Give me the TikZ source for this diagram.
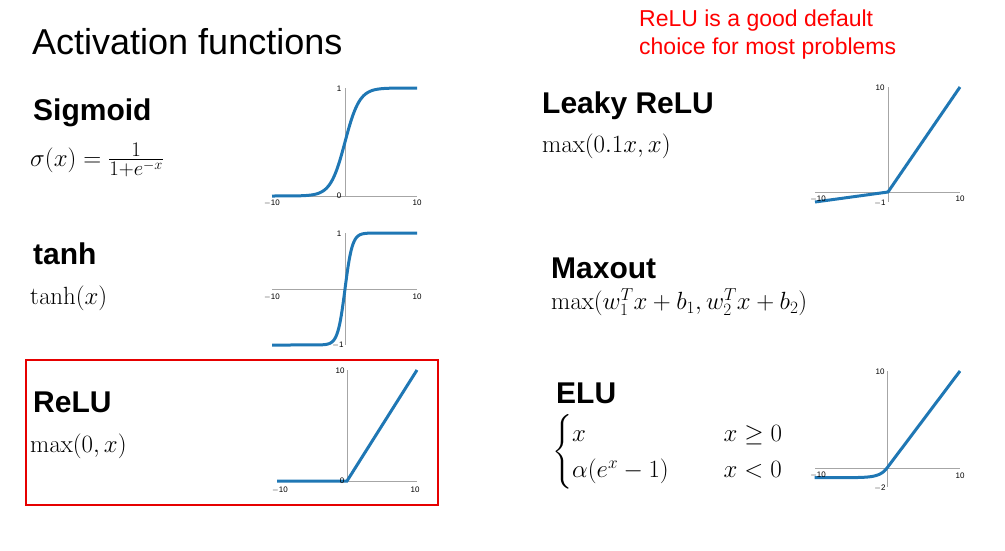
\documentclass[tikz,border=0pt]{standalone}
\usepackage[no-math]{fontspec}
\usepackage{amsmath}
\newfontfamily\arial{Liberation Sans}
\definecolor{plotblue}{RGB}{31,119,180}
\definecolor{redbox}{RGB}{230,0,0}
\begin{document}
\begin{tikzpicture}[x=1pt,y=-1pt,
  ax/.style={draw=gray!70,line width=0.6pt},
  crv/.style={draw=plotblue,line width=3pt},
  tk/.style={font=\arial\fontsize{8}{9}\selectfont,inner sep=1pt},
  head/.style={font=\arial\bfseries\fontsize{30}{34}\selectfont,anchor=west,inner sep=0pt},
  frm/.style={font=\fontsize{28}{32}\selectfont,anchor=west,inner sep=0pt}]
\useasboundingbox (0,0) rectangle (1005,550);
\node[font=\arial\fontsize{36}{40}\selectfont,anchor=west,inner sep=0] (title) at (32,42) {Activation functions};
\node[font=\arial\fontsize{23}{28}\selectfont,text=red,align=left,anchor=north west,inner sep=0] (note) at (639,10) {ReLU is a good default\\choice for most problems};
% Sigmoid
\node[head] (h1) at (33,113) {Sigmoid};
\node[frm] (f1) at (30,160) {$\sigma(x)=\frac{1}{1+e^{-x}}$};
\draw[ax] (272,196)--(417,196) (345,88)--(345,196);
\draw[crv] (272,196)--({345+7.25*(-8)},{196-108/(1+exp(8))}) -- plot[domain=-8:8,samples=80] ({345+7.25*\x},{196-108/(1+exp(-\x))}) -- (417,88);
\node[tk] (a1) at (272,203) {$-$10}; \node[tk] (b1) at (417,203) {10};
\node[tk] (c1) at (339,89) {1}; \node[tk] (d1) at (339,196) {0};
% tanh
\node[head] (h2) at (33,254) {tanh};
\node[frm] (f2) at (30,298) {$\tanh(x)$};
\draw[ax] (272,289)--(417,289) (345,233)--(345,345);
\draw[crv] (272,345) -- plot[domain=-4.5:4.5,samples=80] ({345+7.25*\x},{289-56*(1-2/(exp(2*\x)+1))}) -- (417,233);
\node[tk] (a2) at (272,297) {$-$10}; \node[tk] (b2) at (417,297) {10};
\node[tk] (c2) at (339,234) {1}; \node[tk] (d2) at (338,345) {$-$1};
% ReLU
\draw[redbox,line width=2pt] (26,360) rectangle (438,505);
\node[head] (h3) at (33,402) {ReLU};
\node[frm] (f3) at (30,446) {$\max(0,x)$};
\draw[ax] (277,481)--(417,481) (347,370)--(347,481);
\draw[crv] (277,481)--(347,481)--(417,370);
\node[tk] (a3) at (280,490) {$-$10}; \node[tk] (b3) at (415,490) {10};
\node[tk] (c3) at (340,371) {10}; \node[tk] (d3) at (342,481) {0};
% Leaky
\node[head] (h4) at (542,106) {Leaky ReLU};
\node[frm] (f4) at (542,146) {$\max(0.1x,x)$};
\draw[ax] (815,192)--(960,192) (888,87)--(888,202);
\draw[crv] (815,202)--(888,192)--(960,87);
\node[tk] (a4) at (818,199) {$-$10}; \node[tk] (b4) at (960,199) {10};
\node[tk] (c4) at (880,88) {10}; \node[tk] (d4) at (880,203) {$-$1};
% Maxout
\node[head] (h5) at (551,268) {Maxout};
\node[frm,font=\fontsize{25}{30}\selectfont] (f5) at (551,302) {$\max(w_1^Tx+b_1,w_2^Tx+b_2)$};
% ELU
\node[head] (h6) at (556,393) {ELU};
\node[frm,font=\fontsize{24}{30}\selectfont] (f6) at (552,452) {$\begin{cases}x & \quad\; x\ge 0\\ \alpha(e^x-1) & \quad\; x<0\end{cases}$};
\draw[ax] (815,468)--(960,468) (887,371)--(887,487);
\draw[crv] plot[domain=-10:0,samples=60] ({887+7.25*\x},{468-9.67*(exp(\x)-1)}) -- (960,371);
\node[tk] (a6) at (818,475) {$-$10}; \node[tk] (b6) at (960,476) {10};
\node[tk] (c6) at (880,372) {10}; \node[tk] (d6) at (880,488) {$-$2};
\end{tikzpicture}
\end{document}
